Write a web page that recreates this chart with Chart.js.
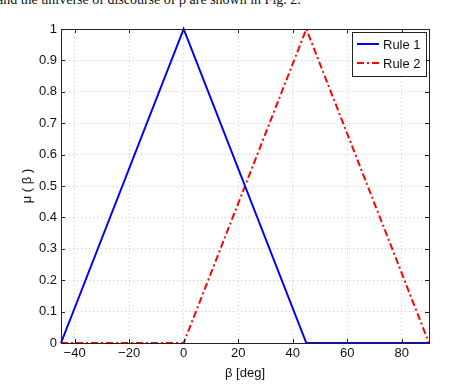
<!DOCTYPE html>
<html>
<head>
<meta charset="utf-8">
<script src="https://cdn.jsdelivr.net/npm/chart.js@4"></script>
<style>
  body { margin: 0; background: #fff; overflow: hidden; }
  #wrap { position: relative; width: 474px; height: 385px; }
  #caption { position: absolute; left: -3px; top: -8px; font-family: "Liberation Serif", serif; font-size: 14px; line-height: 16px; white-space: nowrap; color: #111; }
  canvas { position: absolute; left: 0; top: 0; }
</style>
</head>
<body>
<div id="wrap">
  <div id="caption">and the universe of discourse of β are shown in Fig. 2.</div>
  <canvas id="graphic" width="474" height="385"></canvas>
</div>
<script>
// membership functions, beta in degrees
const betaPoints = [-45, 0, 45, 90];
const rule1 = [0, 1, 0, 0];
const rule2 = [0, 0, 1, 0];
const xTicks = [-40, -20, 0, 20, 40, 60, 80];
const yTicks = [0, 0.1, 0.2, 0.3, 0.4, 0.5, 0.6, 0.7, 0.8, 0.9, 1];

const toPoints = (xs, ys) => xs.map((x, i) => ({ x: x, y: ys[i] }));

//box around the plot, inner ticks and legend like matlab
const framePlugin = {
    id: 'frame',
    afterDraw(chart) {
        const ctx = chart.ctx;
        const a = chart.chartArea;
        const xs = chart.scales.x, ys = chart.scales.y;
        ctx.save();
        ctx.strokeStyle = '#222';
        ctx.lineWidth = 1;
        ctx.strokeRect(a.left + 0.5, a.top + 0.5, a.right - a.left, a.bottom - a.top);
        ctx.beginPath();
        xTicks.forEach(v => {
            const px = Math.round(xs.getPixelForValue(v)) + 0.5;
            ctx.moveTo(px, a.bottom); ctx.lineTo(px, a.bottom - 4);
            ctx.moveTo(px, a.top); ctx.lineTo(px, a.top + 4);
        });
        yTicks.forEach(v => {
            const py = Math.round(ys.getPixelForValue(v)) + 0.5;
            ctx.moveTo(a.left, py); ctx.lineTo(a.left + 4, py);
            ctx.moveTo(a.right, py); ctx.lineTo(a.right - 4, py);
        });
        ctx.stroke();

        // legend box
        const bx = a.right - 77, by = a.top + 3, bw = 74, bh = 44;
        ctx.fillStyle = '#fff';
        ctx.fillRect(bx, by, bw, bh);
        ctx.strokeStyle = '#222';
        ctx.strokeRect(bx + 0.5, by + 0.5, bw, bh);
        ctx.font = '13px "Liberation Sans", Arial, sans-serif';
        ctx.textBaseline = 'middle';
        chart.data.datasets.forEach((ds, i) => {
            const cy = by + 12 + i * 19;
            ctx.strokeStyle = ds.borderColor;
            ctx.lineWidth = 2;
            ctx.setLineDash(ds.borderDash || []);
            ctx.beginPath();
            ctx.moveTo(bx + 5, cy); ctx.lineTo(bx + 27, cy);
            ctx.stroke();
            ctx.setLineDash([]);
            ctx.fillStyle = '#111';
            ctx.fillText(ds.label, bx + 31, cy + 1);
        });
        ctx.restore();
    }
};

const chartElement = document.getElementById("graphic");
const newChart = new Chart(chartElement, {
    type: 'line',
    data: {
        datasets: [{
            label: "Rule 1",
            borderColor: 'rgb(0, 0, 255)',
            backgroundColor: 'rgb(0, 0, 255)',
            borderWidth: 2,
            pointRadius: 0,
            data: toPoints(betaPoints, rule1),
        }, {
            label: "Rule 2",
            borderColor: 'rgb(255, 0, 0)',
            backgroundColor: 'rgb(255, 0, 0)',
            borderWidth: 2,
            borderDash: [7, 3, 2, 3],
            pointRadius: 0,
            data: toPoints(betaPoints, rule2),
        }]
    },
    options: {
        responsive: false,
        animation: false,
        clip: false,
        layout: { padding: { left: 20, right: 45, top: 29, bottom: 4 } },
        plugins: {
            legend: { display: false },
            tooltip: { enabled: false }
        },
        scales: {
            x: {
                type: 'linear',
                min: -45,
                max: 90,
                afterBuildTicks: (scale) => { scale.ticks = xTicks.map(v => ({ value: v })); },
                afterFit: (scale) => { scale.height = 38; },
                grid: { color: '#c8c8c8', drawTicks: false },
                border: { display: false, dash: [1, 3] },
                ticks: {
                    padding: 3,
                    color: '#111',
                    font: { family: '"Liberation Sans", Arial, sans-serif', size: 13 },
                    callback: (v) => v < 0 ? '\u2212' + Math.abs(v) : String(v)
                },
                title: {
                    display: true,
                    text: 'β [deg]',
                    color: '#111',
                    padding: { top: 0, bottom: 0 },
                    font: { family: '"Liberation Sans", Arial, sans-serif', size: 13 }
                }
            },
            y: {
                min: 0,
                max: 1,
                afterBuildTicks: (scale) => { scale.ticks = yTicks.map(v => ({ value: v })); },
                afterFit: (scale) => { scale.width = 41; },
                grid: { color: '#c8c8c8', drawTicks: false },
                border: { display: false, dash: [1, 3] },
                ticks: {
                    padding: 4,
                    color: '#111',
                    font: { family: '"Liberation Sans", Arial, sans-serif', size: 13 },
                    callback: (v) => String(Math.round(v * 10) / 10)
                },
                title: {
                    display: true,
                    text: 'μ ( β )',
                    color: '#111',
                    padding: 0,
                    font: { family: '"Liberation Sans", Arial, sans-serif', size: 13 }
                }
            }
        }
    },
    plugins: [framePlugin]
});
</script>
</body>
</html>
